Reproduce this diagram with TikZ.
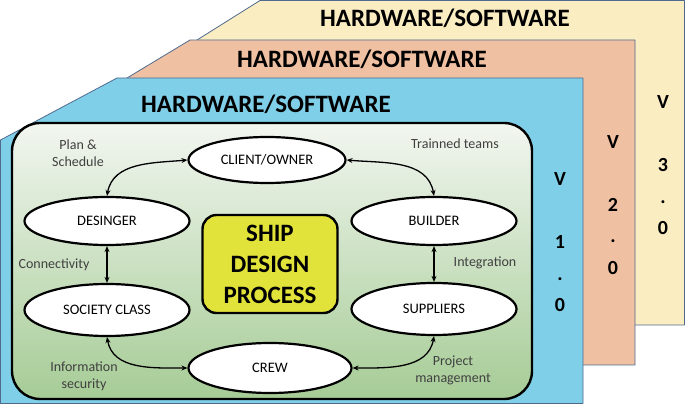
\documentclass[tikz,border=0pt]{standalone}
\usepackage{fontspec}
\setmainfont{Carlito}
\usetikzlibrary{shapes.geometric,arrows.meta}
\definecolor{pyellow}{RGB}{251,237,194}
\definecolor{psalmon}{RGB}{240,192,162}
\definecolor{pblue}{RGB}{128,207,232}
\definecolor{pedge}{RGB}{80,106,142}
\definecolor{gtop}{RGB}{242,246,240}
\definecolor{gbot}{RGB}{166,204,150}
\definecolor{shipfill}{RGB}{226,227,58}
\definecolor{labgray}{RGB}{64,64,64}

\begin{document}
\begin{tikzpicture}[x=1pt,y=1pt,
  panel/.style={draw=pedge,line width=0.8pt,line join=round},
  title/.style={anchor=base,font=\bfseries\fontsize{25}{29}\selectfont},
  ver/.style={align=center,font=\bfseries\fontsize{20}{31.5}\selectfont},
  ent/.style={ellipse,draw,fill=white,line width=2.2pt,minimum width=165,minimum height=48,inner sep=0pt,font=\fontsize{14.5}{16}\selectfont},
  lab/.style={align=center,text=labgray,font=\fontsize{14}{17}\selectfont},
  link/.style={<->,>={Stealth[length=6pt,width=5pt]},line width=1.3pt}]
  \useasboundingbox (0,0) rectangle (685,404);
  % version panels, back to front
  \draw[panel,fill=pyellow] (260,403.5) -- (684.5,403.5) -- (684.5,79) -- (197,79) -- (197,364) -- cycle;
  \node[title] (t3) at (445,377) {HARDWARE/SOFTWARE};
  \node[ver] (v3) at (663,238.5) {V\\[31.5pt]3\\.\\0};
  \draw[panel,fill=psalmon] (190,364) -- (635,364) -- (635,39) -- (127,39) -- (127,326) -- cycle;
  \node[title] (t2) at (362,336) {HARDWARE/SOFTWARE};
  \node[ver] (v2) at (613,199) {V\\[31.5pt]2\\.\\0};
  \draw[panel,fill=pblue] (117,326) -- (583,326) -- (583,0.5) -- (0.5,0.5) -- (0.5,264) -- cycle;
  \node[title] (t1) at (266,291) {HARDWARE/SOFTWARE};
  \node[ver] (v1) at (560,161.5) {V\\[31.5pt]1\\.\\0};
  \shadedraw[line width=2.4pt,rounded corners=28pt,top color=gtop,bottom color=gbot] (12,5) rectangle (532,281);
  % process
  \node[draw,line width=2.4pt,fill=shipfill,rounded corners=14pt,minimum width=135,minimum height=98,align=center,
    font=\bfseries\fontsize{25}{31}\selectfont] (ship) at (270,140) {SHIP\\DESIGN\\PROCESS};
  \node[ent,minimum width=157,minimum height=46] (client) at (267,244) {CLIENT/OWNER};
  \node[ent] (des) at (107,183) {DESINGER};
  \node[ent,minimum height=52] (soc) at (107,94) {SOCIETY CLASS};
  \node[ent,minimum width=163,minimum height=50] (crew) at (270,36) {CREW};
  \node[ent] (build) at (434,183) {BUILDER};
  \node[ent,minimum height=52] (supp) at (434,95) {SUPPLIERS};
  \draw[link] (client.west) to[out=185,in=80] (des.north);
  \draw[link] (client.east) to[out=-5,in=100] (build.north);
  \draw[link] (des.south) -- (soc.north);
  \draw[link] (build.south) -- (supp.north);
  \draw[link] (soc.south) to[out=-80,in=180] (crew.west);
  \draw[link] (supp.south) to[out=-100,in=0] (crew.east);
  \node[lab] (plan) at (78,250.5) {Plan \&\\Schedule};
  \node[lab] (teams) at (455,260) {Trainned teams};
  \node[lab] (conn) at (54,139) {Connectivity};
  \node[lab] (integ) at (485,141) {Integration};
  \node[lab] (info) at (84,27.5) {Information\\security};
  \node[lab] (proj) at (453,34) {Project\\management};
\end{tikzpicture}
\end{document}
